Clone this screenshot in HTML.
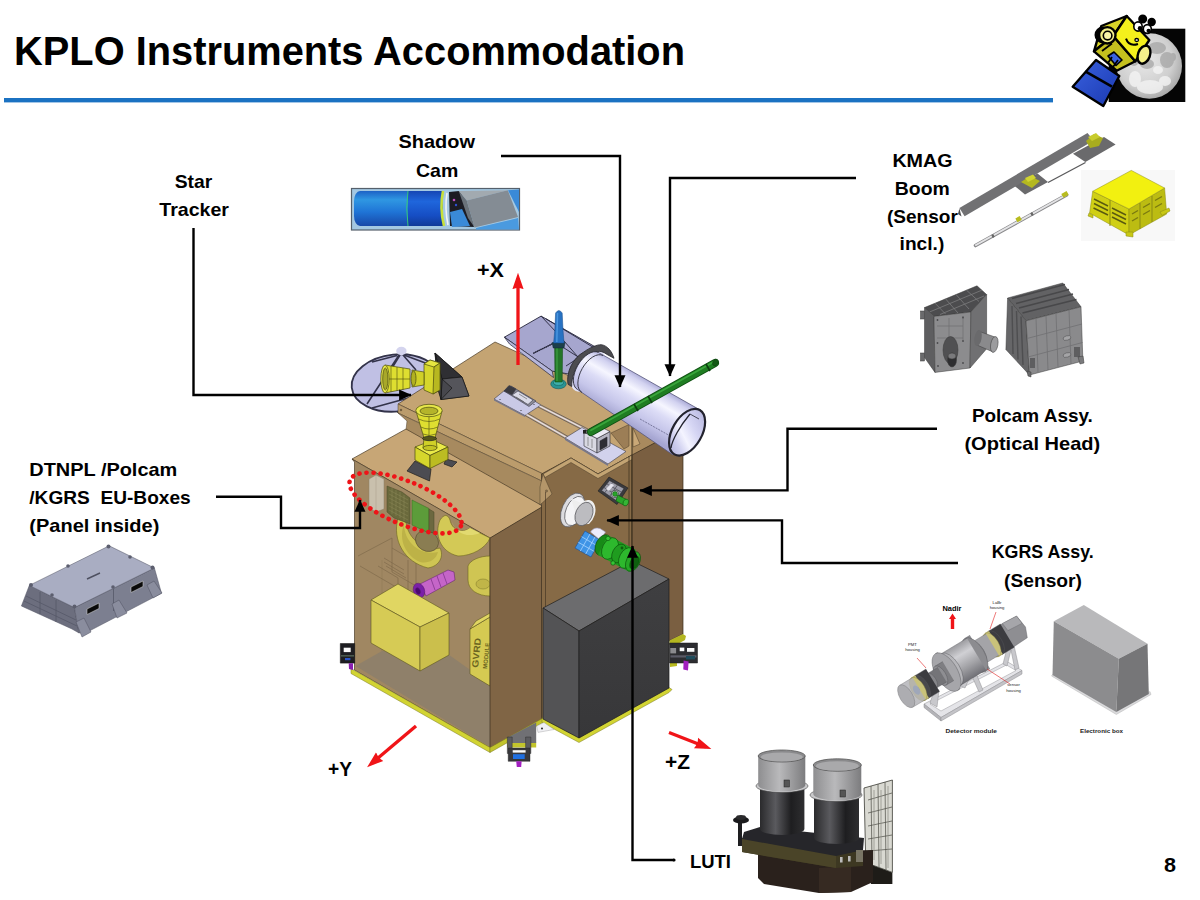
<!DOCTYPE html>
<html lang="en">
<head>
<meta charset="utf-8">
<title>KPLO Instruments Accommodation</title>
<style>
html,body{margin:0;padding:0;background:#fff;}
body{width:1200px;height:900px;overflow:hidden;position:relative;font-family:"Liberation Sans",sans-serif;}
svg{position:absolute;left:0;top:0;display:block;}
text{font-family:"Liberation Sans",sans-serif;font-weight:bold;fill:#000;}
.lbl{font-size:19px;}
.ax{font-size:21px;}
.c{fill:none;stroke:#000;stroke-width:2.4;stroke-linejoin:miter;}
.ol{stroke:#2a2a2a;stroke-width:0.7;stroke-linejoin:round;}
</style>
</head>
<body>
<svg width="1200" height="900" viewBox="0 0 1200 900">
<defs>
<marker id="ah" viewBox="0 0 10 10" refX="9.5" refY="5" markerWidth="5.2" markerHeight="5.2" orient="auto-start-reverse"><path d="M0,0.6 L10,5 L0,9.4 Z" fill="#000"/></marker>
<marker id="rh" viewBox="0 0 10 10" refX="6.5" refY="5" markerWidth="5" markerHeight="5" orient="auto-start-reverse"><path d="M0,1.6 L10,5 L0,8.4 Q1.4,5 0,1.6 Z" fill="#f01418"/></marker>
</defs>
<rect width="1200" height="900" fill="#fff"/>

<!-- ===== header ===== -->
<g id="header">
<text x="14" y="65" font-size="40" textLength="671" lengthAdjust="spacingAndGlyphs">KPLO Instruments Accommodation</text>
<rect x="4" y="98" width="1049" height="4.4" fill="#1b72c2"/>
</g>

<!-- ===== peripheral images ===== -->
<g id="periph">
<defs>
<linearGradient id="gsc" x1="0" y1="0" x2="0" y2="1"><stop offset="0" stop-color="#1d62c6"/><stop offset="0.25" stop-color="#2f97e2"/><stop offset="0.6" stop-color="#1f74d6"/><stop offset="1" stop-color="#1848a8"/></linearGradient>
<linearGradient id="gsc2" x1="0" y1="0" x2="0" y2="1"><stop offset="0" stop-color="#1546b4"/><stop offset="0.3" stop-color="#1f66dc"/><stop offset="0.7" stop-color="#164ec4"/><stop offset="1" stop-color="#103a98"/></linearGradient>
<radialGradient id="gmoon" cx="0.42" cy="0.4" r="0.62"><stop offset="0" stop-color="#e9e9e9"/><stop offset="0.7" stop-color="#cfcfcf"/><stop offset="1" stop-color="#a9a9a9"/></radialGradient>
<linearGradient id="gpanel" x1="0" y1="0" x2="1" y2="1"><stop offset="0" stop-color="#3a62e0"/><stop offset="1" stop-color="#1a38b0"/></linearGradient>
<linearGradient id="glutiL" x1="0" y1="0" x2="1" y2="0"><stop offset="0" stop-color="#8e8e90"/><stop offset="0.45" stop-color="#b9b9bb"/><stop offset="1" stop-color="#7c7c7e"/></linearGradient>
<linearGradient id="glutiD" x1="0" y1="0" x2="1" y2="0"><stop offset="0" stop-color="#2a2a2c"/><stop offset="0.35" stop-color="#5a5a5e"/><stop offset="0.7" stop-color="#1e1e20"/><stop offset="1" stop-color="#2e2e30"/></linearGradient>
<linearGradient id="gdrum" x1="0" y1="0" x2="0.5" y2="1"><stop offset="0" stop-color="#c4c4c8"/><stop offset="0.5" stop-color="#8e8e94"/><stop offset="1" stop-color="#6a6a70"/></linearGradient>
</defs>

<!-- ShadowCam picture -->
<g id="shadowcam">
<rect x="351.5" y="188.5" width="168" height="41.5" fill="#a4c8e2" stroke="#55606c" stroke-width="1.2"/>
<rect x="354" y="191" width="55" height="35" rx="6" ry="10" fill="url(#gsc)"/>
<rect x="390" y="191" width="19" height="35" fill="url(#gsc)"/>
<rect x="408" y="191" width="35" height="35" fill="url(#gsc2)"/>
<path d="M408,191 Q405.5,208 408,226" fill="none" stroke="#35c878" stroke-width="1"/>
<path d="M443,191 Q439.5,208 444,226" fill="none" stroke="#c8e03a" stroke-width="2.6"/>
<path d="M447,193 Q444.5,208 448,225" fill="none" stroke="#f4f4f4" stroke-width="1.6"/>
<polygon points="449,192 459,191 466,201 474,227 450,226" fill="#1c1c24"/>
<polygon points="450,212 462,209 470,226 452,227" fill="#3a8ad8"/>
<polygon points="458.7,191 507.8,190.3 466.7,200.6" fill="#a2aab0"/>
<polygon points="466.7,200.6 507.8,190.3 518,217 474.6,227.5" fill="#848c94"/>
<polygon points="458.7,191 466.7,200.6 474.6,227.5 468,218" fill="#6a727a"/>
<polygon points="508,190.3 519,189.5 519,212" fill="#3a8ad8"/>
<polygon points="476,228 518,218 519,229.5 476,229.5" fill="#4a9adf"/>
<circle cx="454" cy="200" r="1.3" fill="#c050c0"/><circle cx="456" cy="205" r="1.2" fill="#3050d0"/>
</g>

<!-- Logo -->
<g id="logo">
<rect x="1108.7" y="28.7" width="76.6" height="73.3" fill="#050505"/>
<circle cx="1149.3" cy="66" r="32.7" fill="url(#gmoon)"/>
<g fill="#a2a2a2" opacity="0.7">
<ellipse cx="1141" cy="50" rx="10" ry="7"/><ellipse cx="1157" cy="48" rx="9" ry="6"/><ellipse cx="1167" cy="60" rx="7" ry="8"/><ellipse cx="1147" cy="64" rx="7" ry="5"/><ellipse cx="1173" cy="57" rx="3" ry="4"/><ellipse cx="1134" cy="60" rx="5" ry="6"/>
</g>
<g fill="#f4f4f4" opacity="0.8"><ellipse cx="1150" cy="87" rx="13" ry="7"/><ellipse cx="1135" cy="79" rx="6" ry="8"/><ellipse cx="1165" cy="81" rx="6" ry="5"/><ellipse cx="1158" cy="70" rx="5" ry="4"/></g>
<g stroke="#000" stroke-width="2.4" stroke-linejoin="round">
<polygon points="1096,60 1119.3,76 1103.3,106 1072.7,86.7" fill="url(#gpanel)"/>
<path d="M1085.3,71.3 L1112,86.7" fill="none" stroke-width="2.6"/>
<polygon points="1126.7,16 1113.3,36 1094,51.3 1101.3,26" fill="#d8d428"/>
<polygon points="1113.3,36 1135.3,61.3 1116.7,70.7 1094,51.3" fill="#c4c01e"/>
<polygon points="1126.7,16 1149.3,40 1135.3,61.3 1113.3,36" fill="#f4f01c"/>
<polygon points="1108,56 1114,52 1122,60 1116,65.5" fill="#3a62e0" stroke-width="1.6"/>
<path d="M1102,51 L1112,43.5 M1108,63 L1112,57 M1113,67 L1118,60" fill="none" stroke-width="1.8"/>
<ellipse cx="1144" cy="54.7" rx="6" ry="9.3" transform="rotate(20 1144 54.7)" fill="#f4f08a"/>
<circle cx="1103" cy="35" r="8.5" fill="#000" stroke="none"/>
<circle cx="1107.3" cy="35.3" r="8.2" fill="#f4f08a"/>
<circle cx="1107.6" cy="35.6" r="4.3" fill="#f8f4a8" stroke-width="1.6"/>
<circle cx="1142.7" cy="19" r="3.3" fill="#000"/><circle cx="1151.7" cy="22" r="3" fill="#000"/>
<ellipse cx="1138" cy="26.5" rx="4.2" ry="4.6" fill="#fff" stroke-width="1.6"/>
<ellipse cx="1147.3" cy="29" rx="4" ry="4.4" fill="#fff" stroke-width="1.6"/>
<circle cx="1140" cy="28.3" r="2.2" fill="#000" stroke="none"/><circle cx="1148.6" cy="30.8" r="2.1" fill="#000" stroke="none"/>
<path d="M1126,38.7 Q1129,47 1138,44" fill="none" stroke-width="2"/>
<ellipse cx="1136.7" cy="40" rx="1.8" ry="1.5" fill="#fff" stroke-width="1.3"/>
</g>
</g>

<!-- KMAG boom picture -->
<g id="kmag">
<polygon points="1073,153.8 1104,137 1115.6,144.4 1085.4,162" fill="#6a6a6c"/>
<polygon points="1013.5,185 1037.5,173.5 1048,182 1025,194.4" fill="#6a6a6c"/>
<path d="M1048,182.5 L1085.5,162.5" stroke="#5a5a5c" stroke-width="1.4" fill="none"/>
<polygon points="959.4,208 1087.5,133 1093.7,140.5 964.6,216.3" fill="#717173"/><rect x="1081" y="170" width="94" height="71" fill="#f8f8f8"/>
<polygon points="959.4,208.5 961.5,216.5 958,214" fill="#4a4a4c"/>
<polygon points="1021,182 1030,176 1040,181 1032,188" fill="#b4b820"/>
<polygon points="1025,178 1033,174.5 1036,178 1028,182" fill="#d0d430"/>
<polygon points="1086,141 1094,134 1103,138 1099,146 1090,148" fill="#a8ac1e"/>
<polygon points="1088,137 1096,133 1100,137 1092,141" fill="#c8cc2c"/>
<path d="M975.5,245.5 L1066.5,195" stroke="#8a8a8c" stroke-width="3.6" stroke-linecap="round" fill="none"/>
<path d="M976,245 L1066,195" stroke="#e4e4e6" stroke-width="2" stroke-linecap="round" fill="none"/>
<path d="M992,236.5 L994,235.4 M1031,214.6 L1033,213.5" stroke="#666" stroke-width="3.2" fill="none"/>
<rect x="1016" y="217" width="5" height="4.4" transform="rotate(-29 1018.5 219)" fill="#b8bc20"/>
<rect x="1062" y="192.2" width="6" height="4.4" transform="rotate(-29 1065 194.4)" fill="#b8bc20"/>
</g>
<g id="ybox" stroke="#8a8a14" stroke-width="0.5">
<polygon points="1089.6,213 1092.7,191.3 1129,209 1129,235" fill="#d0cf14"/>
<polygon points="1129,209 1164.6,188 1166.7,214 1129,235" fill="#bcbc12"/>
<polygon points="1092.7,191.3 1131.3,170.4 1164.6,188 1129,209" fill="#f2f010"/>
<path d="M1094,199 L1108,206 M1094,203.5 L1108,210.5 M1093.5,208 L1108,215 M1112,208 L1126,215 M1112,212.5 L1126,219.5 M1112,217 L1126,224" stroke="#5a5a10" stroke-width="1.5" fill="none"/>
<path d="M1110,200 V226 M1140,203 V229 M1152,196 V222" stroke="#8a8a14" stroke-width="1" fill="none"/>
<path d="M1132,214 L1138,210.5 M1143,207.5 L1150,203.5 M1155,200.5 L1162,196.5 M1132,221 L1138,217.5 M1143,214.5 L1150,210.5 M1155,207.5 L1162,203.5" stroke="#7a7a10" stroke-width="1.4" fill="none"/>
<polygon points="1089,213 1093,215 1093,218 1088,216" fill="#c8c814"/><polygon points="1160,212 1169,208 1170,211 1162,215.5" fill="#c8c814"/><polygon points="1126,232 1133,232 1133,237 1126,236" fill="#c8c814"/>
</g>

<!-- Polcam units -->
<g id="polcam" stroke="#3a3a3a" stroke-width="0.5">
<polygon points="924.5,307.6 977,285.8 986.6,294.5 970.9,312 934,316.4" fill="#4c4c4e"/>
<path d="M935,303.2 L946,314.5 M945.5,298.8 L958,313 M956,294.5 L969,309 M966.5,290.2 L979,301.5 M929.5,312 L981.8,290.2 M940,314.5 L984,296" stroke="#7c7c7e" stroke-width="0.8" fill="none"/>
<polygon points="924.5,307.6 934,316.4 935,372.4 924.5,357.5" fill="#5e5e60"/>
<polygon points="934,316.4 970.9,312 970,368 935,372.4" fill="#8c8c8e"/>
<polygon points="970.9,312 986.6,294.5 986.6,348.8 970,368" fill="#707072"/>
<path d="M949,318 V338 M937,326 H963 M937,338 H963 M963,316 V340" stroke="#6e6e70" stroke-width="0.7" fill="none"/>
<rect x="920.5" y="311" width="4" height="8" fill="#6a6a6c"/><rect x="920.5" y="353" width="4" height="8" fill="#6a6a6c"/>
<polygon points="978,331 995,337 993,352 977,345" fill="#8a8a8c"/>
<ellipse cx="994.3" cy="344.5" rx="3.6" ry="8" transform="rotate(10 994.3 344.5)" fill="#9c9c9e"/>
<ellipse cx="978" cy="338" rx="3.6" ry="8" transform="rotate(10 978 338)" fill="#6a6a6c" stroke="none"/>
<ellipse cx="950.5" cy="350" rx="7.5" ry="13.5" fill="#505052"/>
<ellipse cx="952" cy="360" rx="4.5" ry="7" fill="#2e2e30"/>
<ellipse cx="952" cy="356" rx="4" ry="3" fill="#7a7a7c"/>
<g fill="#4a4a4c" stroke="none"><circle cx="937.5" cy="320" r="0.9"/><circle cx="963" cy="317.5" r="0.9"/><circle cx="937.5" cy="343" r="0.9"/><circle cx="963" cy="341" r="0.9"/><circle cx="938" cy="366" r="0.9"/><circle cx="963" cy="363" r="0.9"/></g>

<polygon points="1007.6,298 1062.8,283 1081,306.8 1026,320.8" fill="#626264"/>
<path d="M1012,298.5 L1065,284.5 M1016,303.5 L1069,289.5 M1019,308 L1073,294 M1022.5,313 L1076.5,299.5" stroke="#48484a" stroke-width="1.6" fill="none"/>
<polygon points="1007.6,298 1026,320.8 1029.5,375 1005.9,349.6" fill="#666668"/>
<path d="M1012,306 L1013,354 M1016.5,311 L1018,359.5 M1021,316.5 L1023,365" stroke="#4e4e50" stroke-width="1.4" fill="none"/>
<polygon points="1026,320.8 1081,306.8 1082.9,361 1029.5,375" fill="#8a8a8c"/>
<path d="M1027,338.5 L1082,324 M1028,357 L1082.5,342.5 M1036,318.5 L1038,372 M1046,316 L1048,370 M1056,313.5 L1058,367 M1069,310 L1071,364" stroke="#707072" stroke-width="0.8" fill="none"/>
<ellipse cx="1067" cy="338" rx="4" ry="2.2" transform="rotate(-15 1067 338)" fill="#a4a4a6" stroke="#4a4a4c"/>
<ellipse cx="1067" cy="355" rx="4" ry="2.2" transform="rotate(-15 1067 355)" fill="#a4a4a6" stroke="#4a4a4c"/>
<rect x="1030" y="358" width="5" height="10" fill="#5e5e60" stroke="none"/><rect x="1074" y="347" width="6" height="10" fill="#5e5e60" stroke="none"/>
<polygon points="1078,357 1083,356 1084,363 1080,364" fill="#7a7a7c"/><polygon points="1027,371 1031,372 1031,377 1028,376" fill="#6a6a6c"/>
</g>
<!-- KGRS detector module -->
<g id="kgrs">
<g stroke="#8e8e92" stroke-width="0.5" fill="#d4d4d8"><polygon points="924,704 1007,661.5 1022,670.5 941,717.5" fill="#e4e4e8"/><polygon points="930,704 1006.5,665 1016,670.5 941,711" fill="#ffffff" stroke="#9a9a9e"/><polygon points="924,704 941,717.5 941,721 924,707.5" fill="#b4b4b8"/><polygon points="941,717.5 1022,670.5 1022,674 941,721" fill="#c4c4c8"/><polygon points="1003,664 1009,640 1013,641 1019,668 1015,670 1011,650 1007,666" fill="#c8c8cc"/><polygon points="961,686 969,664 973,666 983,690 979,692 971,674 965,688" fill="#c8c8cc"/><polygon points="930,703 935,688 939,690 937,707" fill="#c8c8cc"/></g>
<defs><linearGradient id="gdr2" gradientUnits="userSpaceOnUse" x1="954.8" y1="645.0" x2="974.3" y2="677.6"><stop offset="0" stop-color="#9a9a9e"/><stop offset="0.3" stop-color="#d0d0d4"/><stop offset="0.65" stop-color="#a2a2a6"/><stop offset="1" stop-color="#6e6e74"/></linearGradient></defs>
<polygon points="999.0,625.5 1016.6,616.1 1025.5,627.0 1027.3,637.7 1012.3,647.8" fill="#8e8e92" stroke="#55555a" stroke-width="0.4"/>
<polygon points="1002.4,623.4 1016.6,616.1 1022.1,623.3 1007.9,630.6" fill="#a6a6aa" stroke="#55555a" stroke-width="0.3"/>
<polygon points="988.4,631.2 1000.4,624.0 1014.3,647.2 1002.3,654.4" fill="#3c3c40" stroke="none"/><path d="M988.4,631.2 L1000.4,624.0 M1002.3,654.4 L1014.3,647.2" stroke="#55555a" stroke-width="0.4" fill="none"/><ellipse cx="995.4" cy="642.8" rx="6.8" ry="13.5" transform="rotate(-31.0 995.4 642.8)" fill="#3c3c40" stroke="#55555a" stroke-width="0.4"/>
<polygon points="985.0,633.3 988.9,631.0 1002.7,654.1 998.9,656.4" fill="#c9c27a" stroke="none"/><path d="M985.0,633.3 L988.9,631.0 M998.9,656.4 L1002.7,654.1" stroke="#8a8440" stroke-width="0.4" fill="none"/><ellipse cx="992.0" cy="644.9" rx="6.8" ry="13.5" transform="rotate(-31.0 992.0 644.9)" fill="#c9c27a" stroke="#8a8440" stroke-width="0.4"/>
<polygon points="971.8,642.4 986.0,633.9 998.8,655.3 984.7,663.8" fill="#a4a4a8" stroke="none"/><path d="M971.8,642.4 L986.0,633.9 M984.7,663.8 L998.8,655.3" stroke="#55555a" stroke-width="0.4" fill="none"/><ellipse cx="978.2" cy="653.1" rx="6.2" ry="12.5" transform="rotate(-31.0 978.2 653.1)" fill="#a4a4a8" stroke="#55555a" stroke-width="0.4"/>
<polygon points="964.8,638.4 969.9,635.3 990.0,668.8 984.8,671.8" fill="#8c8c90" stroke="none"/><path d="M964.8,638.4 L969.9,635.3 M984.8,671.8 L990.0,668.8" stroke="#55555a" stroke-width="0.4" fill="none"/><ellipse cx="974.8" cy="655.1" rx="9.8" ry="19.5" transform="rotate(-31.0 974.8 655.1)" fill="#8c8c90" stroke="#55555a" stroke-width="0.4"/>
<polygon points="941.3,653.7 967.0,638.2 986.0,670.0 960.3,685.4" fill="url(#gdr2)" stroke="none"/><path d="M941.3,653.7 L967.0,638.2 M960.3,685.4 L986.0,670.0" stroke="#55555a" stroke-width="0.4" fill="none"/><ellipse cx="950.8" cy="669.5" rx="9.2" ry="18.5" transform="rotate(-31.0 950.8 669.5)" fill="#b6b6ba" stroke="#55555a" stroke-width="0.4"/>
<polygon points="935.5,653.7 937.6,652.4 959.7,689.2 957.6,690.5" fill="#8a8a8e" stroke="none"/><path d="M935.5,653.7 L937.6,652.4 M957.6,690.5 L959.7,689.2" stroke="#55555a" stroke-width="0.4" fill="none"/><ellipse cx="946.5" cy="672.1" rx="10.8" ry="21.5" transform="rotate(-31.0 946.5 672.1)" fill="#a6a6aa" stroke="#55555a" stroke-width="0.4"/>
<polygon points="934.9,666.3 942.6,661.6 953.9,680.5 946.2,685.1" fill="#7e7e82" stroke="none"/><path d="M934.9,666.3 L942.6,661.6 M946.2,685.1 L953.9,680.5" stroke="#55555a" stroke-width="0.4" fill="none"/><ellipse cx="940.5" cy="675.7" rx="5.5" ry="11.0" transform="rotate(-31.0 940.5 675.7)" fill="#8e8e92" stroke="#55555a" stroke-width="0.4"/>
<polygon points="927.6,673.5 937.9,667.4 946.6,681.9 936.3,688.1" fill="#747478" stroke="none"/><path d="M927.6,673.5 L937.9,667.4 M936.3,688.1 L946.6,681.9" stroke="#55555a" stroke-width="0.4" fill="none"/><ellipse cx="932.0" cy="680.8" rx="4.2" ry="8.5" transform="rotate(-31.0 932.0 680.8)" fill="#86868a" stroke="#55555a" stroke-width="0.4"/>
<polygon points="914.9,675.7 926.0,669.0 939.6,691.6 928.5,698.3" fill="#3c3c40" stroke="none"/><path d="M914.9,675.7 L926.0,669.0 M928.5,698.3 L939.6,691.6" stroke="#55555a" stroke-width="0.4" fill="none"/><ellipse cx="921.7" cy="687.0" rx="6.6" ry="13.2" transform="rotate(-31.0 921.7 687.0)" fill="#48484c" stroke="#55555a" stroke-width="0.4"/>
<polygon points="911.5,677.7 915.3,675.4 928.9,698.1 925.0,700.4" fill="#c9c27a" stroke="none"/><path d="M911.5,677.7 L915.3,675.4 M925.0,700.4 L928.9,698.1" stroke="#8a8440" stroke-width="0.4" fill="none"/><ellipse cx="918.2" cy="689.1" rx="6.6" ry="13.2" transform="rotate(-31.0 918.2 689.1)" fill="#c9c27a" stroke="#8a8440" stroke-width="0.4"/>
<ellipse cx="916.5" cy="690.1" rx="3" ry="5" transform="rotate(-31.0 916.5 690.1)" fill="#4a78c8"/>
<g opacity="0.82"><polygon points="899.7,685.3 912.5,677.6 925.7,699.5 912.8,707.2" fill="#b2b2b6" stroke="none"/><path d="M899.7,685.3 L912.5,677.6 M912.8,707.2 L925.7,699.5" stroke="#55555a" stroke-width="0.4" fill="none"/><ellipse cx="906.2" cy="696.2" rx="6.4" ry="12.8" transform="rotate(-31.0 906.2 696.2)" fill="#9c9ca0" stroke="#55555a" stroke-width="0.4"/></g>
<polygon points="949,619 952.5,613.5 956,619 954.2,619 954.2,629 950.8,629 950.8,619" fill="#f01418"/>
<path d="M996,612 L990,629 M917,658 L926,668 M1010,684 L987,669" stroke="#e02020" stroke-width="0.6" fill="none"/>
<text x="942.5" y="610.5" font-size="6.4" textLength="19" lengthAdjust="spacingAndGlyphs">Nadir</text>
<g style="font-weight:normal">
<text x="997" y="604" font-size="4.2" text-anchor="middle" style="font-weight:normal;fill:#222">LaBr</text>
<text x="997" y="609" font-size="4.2" text-anchor="middle" style="font-weight:normal;fill:#222">housing</text>
<text x="912.5" y="645.5" font-size="4.2" text-anchor="middle" style="font-weight:normal;fill:#222">PMT</text>
<text x="912.5" y="650.5" font-size="4.2" text-anchor="middle" style="font-weight:normal;fill:#222">housing</text>
<text x="1013.5" y="686" font-size="4.2" text-anchor="middle" style="font-weight:normal;fill:#222">sensor</text>
<text x="1013.5" y="691.5" font-size="4.2" text-anchor="middle" style="font-weight:normal;fill:#222">housing</text>
</g>
<text x="945.5" y="733" font-size="6.2" textLength="51.5" lengthAdjust="spacingAndGlyphs" style="fill:#222">Detector module</text>
<text x="1080" y="733" font-size="6.2" textLength="43" lengthAdjust="spacingAndGlyphs" style="fill:#222">Electronic box</text>
</g>
<!-- Electronic box -->
<g id="ebox">
<polygon points="1051.5,676 1054,673 1116.5,710 1150,691.5 1151,694.5 1116.3,714.5" fill="#dadadc" stroke="#aaa" stroke-width="0.4"/>
<polygon points="1053.8,621.3 1083.8,605 1147.5,643.8 1118.8,658.8" fill="#b9b9bb"/>
<polygon points="1053.8,621.3 1118.8,658.8 1116.3,712 1052.5,675" fill="#8c8c8e"/>
<polygon points="1118.8,658.8 1147.5,643.8 1148.8,694 1116.3,712" fill="#767678"/>
</g>

<!-- LUTI picture -->
<g id="luti">
<!-- radiator panel -->
<polygon points="866,862 892.4,872.4 892.4,884 871,884" fill="#1e1c18"/>
<polygon points="864,788 892.4,780 892.4,872.4 865.8,862.7" fill="#d9d9d2" stroke="#3a3a34" stroke-width="0.8"/>
<path d="M868,800 L892,793 M868,813 L892,807 M868,826 L892,821 M868,839 L892,835 M868,851 L892,849 M871,786 L872,865 M878,784 L879,867 M885,782 L886,870" stroke="#4a4a44" stroke-width="0.7" fill="none"/>
<path d="M874,790 V860 M881,790 V864 M888,786 V868" stroke="#8a8a84" stroke-width="1.2" fill="none" opacity="0.6"/>
<!-- lower block -->
<polygon points="758,853 758,878 764,884 819,893 851,892 873,882 873,850" fill="#2a211c"/>
<polygon points="819,868 851,866 851,892 819,893" fill="#362a22"/>
<!-- base band -->
<polygon points="742,838 836,855 863,850 863,866 836,868 742,852" fill="#3d3822"/>
<polygon points="742,838 836,855 836,868 742,852" fill="#4a4428"/>
<polygon points="744,832 760,827 864,838 863,850 836,856 742,839" fill="#26262a"/>
<rect x="840" y="857" width="2.6" height="5.5" fill="#bbb"/><rect x="848" y="856" width="2.6" height="5.5" fill="#bbb"/>
<rect x="856" y="850" width="7" height="12" fill="#7a7666"/>
<!-- knob -->
<rect x="738" y="822" width="4" height="24" fill="#1e1e20"/>
<ellipse cx="741" cy="820" rx="8" ry="3.6" fill="#1a1a1c"/><ellipse cx="741" cy="817.5" rx="5" ry="2.4" fill="#2a2a2c"/>
<!-- right cylinder -->
<path d="M814,796 V838 A22.5,6 0 0 0 859,838 V796 Z" fill="url(#glutiD)"/>
<ellipse cx="836" cy="795" rx="26" ry="6.5" fill="#c9c9cb" stroke="#444" stroke-width="0.6"/>
<path d="M813.3,765 V794 A24,6.4 0 0 0 861.3,794 V765 Z" fill="url(#glutiL)"/>
<ellipse cx="837.3" cy="765" rx="24" ry="6.2" fill="#8a8a8c" stroke="#555" stroke-width="0.8"/>
<ellipse cx="837.3" cy="766" rx="21.5" ry="4.8" fill="#a9a9ab"/>
<rect x="840" y="790" width="5.5" height="7" fill="#555" stroke="#222" stroke-width="0.5"/>
<!-- left cylinder -->
<path d="M760,787 V829 A22,6 0 0 0 804.4,829 V787 Z" fill="url(#glutiD)"/>
<ellipse cx="782" cy="786" rx="26" ry="6.5" fill="#c9c9cb" stroke="#444" stroke-width="0.6"/>
<path d="M758.2,756 V785 A23.5,6.4 0 0 0 805.3,785 V756 Z" fill="url(#glutiL)"/>
<ellipse cx="781.7" cy="756" rx="23.5" ry="6" fill="#8a8a8c" stroke="#555" stroke-width="0.8"/>
<ellipse cx="781.7" cy="757" rx="21" ry="4.6" fill="#a9a9ab"/>
<rect x="784" y="780" width="5.5" height="7" fill="#555" stroke="#222" stroke-width="0.5"/>
</g>

<!-- EU box picture -->
<g id="eubox" stroke="#4e5060" stroke-width="0.5">
<polygon points="21.4,606 29.3,585.4 74.4,607.6 79,633 72,629" fill="#6c6e7e"/>
<polygon points="74.4,607.6 154.4,568 161.5,593.3 88.7,631.3 79,633" fill="#7c7f90"/>
<polygon points="29.3,585.4 109.2,545.8 154.4,568 74.4,607.6" fill="#a9adc2"/>
<path d="M26,596 L76,620 M24,601 L77,626" stroke="#565868" stroke-width="0.8" fill="none"/>
<path d="M113.5,589 V611 M40,592 V614 M56,600 V622" stroke="#565868" stroke-width="0.8" fill="none"/>
<polygon points="87,609 99,603 99,608.5 87,614.5" fill="#0a0a0a" stroke="#ddd"/>
<polygon points="131,587 143,581 143,586.5 131,592.5" fill="#0a0a0a" stroke="#ddd"/>
<polygon points="76,622 84,618 91,632 82,637" fill="#8a8d9e"/>
<polygon points="112,604 119,600 127,613 117,618" fill="#8a8d9e"/>
<polygon points="147,585 154,581 162,593 153,598" fill="#8a8d9e"/>
<g fill="#5c5e6e" stroke="none"><circle cx="31" cy="585" r="2"/><circle cx="68" cy="566" r="1.8"/><circle cx="108.5" cy="546.5" r="2"/><circle cx="130" cy="557" r="1.8"/><circle cx="152.5" cy="567.5" r="2"/><circle cx="113" cy="587" r="1.8"/><circle cx="74.5" cy="606.5" r="2"/><circle cx="52" cy="595" r="1.8"/></g>
<path d="M87,579 L100,573" stroke="#4e5060" stroke-width="1.4" fill="none"/>
</g>

</g>


<!-- ===== spacecraft ===== -->
<g id="craft" class="ol">
<defs>
<linearGradient id="gcyl" gradientUnits="userSpaceOnUse" x1="649" y1="381" x2="625" y2="422">
<stop offset="0" stop-color="#b0b0da"/><stop offset="0.1" stop-color="#d2d2f0"/><stop offset="0.3" stop-color="#f6f6ff"/><stop offset="0.48" stop-color="#dcdcf6"/><stop offset="0.75" stop-color="#c6c6ea"/><stop offset="1" stop-color="#a6a6d2"/>
</linearGradient>
<linearGradient id="gcylin" gradientUnits="userSpaceOnUse" x1="700" y1="412" x2="674" y2="452">
<stop offset="0" stop-color="#b8b8e0"/><stop offset="0.35" stop-color="#d6d6f4"/><stop offset="0.6" stop-color="#f4f4ff"/><stop offset="0.8" stop-color="#d0d0f0"/><stop offset="1" stop-color="#b8b8e0"/>
</linearGradient>
<linearGradient id="ggbR" x1="0" y1="0" x2="0" y2="1"><stop offset="0" stop-color="#3f3f41"/><stop offset="1" stop-color="#373739"/></linearGradient>
</defs>

<!-- dish behind deck -->
<g id="dish">
<ellipse cx="396" cy="383" rx="44.5" ry="28.5" transform="rotate(-6 396 383)" fill="#c0c0e4" stroke="#33334a" stroke-width="1.8"/>
<ellipse cx="401.4" cy="351" rx="5.2" ry="4.2" fill="#d4d4ee" stroke="none"/>
<path d="M399,355 L367,404 M400,355 L392,368 M403,355 L416,370 M397,355.5 L372,362 M404,355 L428,364 M372,408 L412,397" fill="none" stroke="#33334a" stroke-width="1.6"/>
</g>

<!-- top deck -->
<polygon points="495,342 398,404 543,474 571,458 598,474 632,455 683,428" fill="#c4a473" stroke="#4a3c28"/>
<!-- tray behind cylinder -->
<polygon points="504.4,337.2 541.1,316.1 599,349 580,376 552.2,371.1" fill="#a6a6ce" stroke="#26263a" stroke-width="0.9"/>
<polygon points="504.4,337.2 552.2,371.1 553.5,377.5 509.5,344" fill="#b6b6da" stroke="#26263a" stroke-width="0.7"/>
<path d="M541.1,316.1 L557,333 L578,357 M533.3,353.3 L553,343.5 M557,343.5 L579,357.5 L566,366 M546,318.8 L596,349" fill="none" stroke="#26263a" stroke-width="0.9"/>
<path d="M533.3,353.3 L553,343.5" fill="none" stroke="#26263a" stroke-width="1.4" stroke-dasharray="1.2 0.8"/>
<!-- step region under cylinder -->
<polygon points="632,425 660,440 632,456" fill="#a98a5e" stroke="#4a3c28" stroke-width="0.5"/>
<!-- band + chamfer -->
<polygon points="398,404 543,474 546,483 398,413" fill="#bb9c6c" stroke="#4a3c28" stroke-width="0.5"/>
<polygon points="398,413 546,483 552,494 540,505 406,430 407,421 397,412" fill="#a78a5f" stroke="#4a3c28" stroke-width="0.5"/>
<circle cx="546.5" cy="491" r="1.1" fill="#7a6444" stroke="#4a3c28" stroke-width="0.4"/>
<circle cx="401" cy="410" r="0.9" fill="#7a6444" stroke="#4a3c28" stroke-width="0.4"/>

<!-- lower deck -->
<polygon points="352,459 406,429 543.5,506.5 490,538.5" fill="#c7a676" stroke="#4a3c28"/>

<!-- +Y transparent face -->
<polygon points="352,459 490,538 490,748 354.5,670 354.5,462" fill="#a08762" stroke="#4a3c28"/>
<g id="inside" stroke-width="0.5">
<!-- floor -->
<polygon points="355.5,666 382,651 445,652 490,684 490,747" fill="#8f806a" stroke="none"/>
<path d="M382,651 V560" stroke="#7d6a4c" stroke-width="0.5" fill="none" opacity="0.5"/>
<!-- ghost structure -->
<g fill="none" stroke="#6f5c40" stroke-width="0.6" opacity="0.75">
<path d="M358,556 L392,538 L392,572 L416,586 L416,562 L392,548"/>
<path d="M384,558 L404,570 M384,562 L404,574 M386,566 L406,578 M378,566 L398,578 L398,584"/>
<path d="M360,566 L408,594 M408,594 L408,560"/>
</g>
<!-- yellow tanks -->
<g stroke="#6b6420" stroke-width="0.6">
<path d="M398,518 C392,540 404,562 428,568 C440,566 444,556 440,548 C426,552 408,540 406,522 Z" fill="#cfc553"/>
<path d="M404,524 C404,542 420,556 438,552 C436,560 428,564 420,562 C406,556 398,540 404,524 Z" fill="#bdb247" stroke="none"/>
<ellipse cx="427" cy="541" rx="12" ry="10" transform="rotate(30 427 541)" fill="#8a7d52" stroke="#5a5030"/>
<path d="M440,520 C434,534 440,552 458,556 C472,556 486,548 490,538 L490,538 L470,528 C462,534 452,530 450,520 C448,514 444,514 440,520 Z" fill="#d3c956"/>
<path d="M452,522 C456,534 468,538 480,533 L470,528 C462,534 454,530 452,522 Z" fill="#e2da70" stroke="none"/>
<path d="M468,566 C470,560 480,556 490,556 L490,596 C478,596 468,590 468,580 Z" fill="#cfc553"/>
<ellipse cx="483" cy="584" rx="7" ry="5" fill="#c0b548" stroke="#6b6420" stroke-width="0.4"/>
</g>
<!-- EU boxes panel -->
<polygon points="369,479 376,475 384,479 384,509 376,512 369,508" fill="#c9c0ad" stroke="#8a8068"/>
<path d="M376,475 V512" stroke="#a89f8a" stroke-width="0.5"/>
<polygon points="387,486 402,492 410,498 410,524 394,518 387,512" fill="#6a693c" stroke="#4a4a28"/>
<path d="M389,490 L408,500 M389,494 L408,504 M389,498 L408,508 M389,502 L408,512 M389,506 L408,516 M389,510 L408,520 M392,488 V514 M396,490 V516 M400,492 V518 M404,495 V521" stroke="#8c8a58" stroke-width="0.5" fill="none"/>
<polygon points="412,500 429,508.5 429,533 412,525" fill="#5c9c3a" stroke="#3a6a20"/>
<polygon points="429,509 434,512 434,533 429,532" fill="#6c6840" stroke="#4a4a28"/>
<!-- purple part -->
<g stroke="#5a1a6a" stroke-width="0.5">
<polygon points="420,584 448,570 454,572 455,580 426,596" fill="#c565c8"/>
<path d="M431,579 L435,590 M437,576 L441,587 M443,573 L447,584" fill="none"/>
<ellipse cx="419" cy="590.5" rx="5.5" ry="7.5" transform="rotate(-20 419 590.5)" fill="#7a1fa8"/>
<ellipse cx="418" cy="591" rx="2.2" ry="3.4" transform="rotate(-20 418 591)" fill="#4a0a70"/>
</g>
<!-- yellow box -->
<g stroke="#5a5420" stroke-width="0.6">
<polygon points="371,600 398,584 449,613 420,627" fill="#e0d662"/>
<polygon points="371,600 420,627 420,671 371,643" fill="#d6cb55"/>
<polygon points="420,627 449,613 449,655 420,671" fill="#cbbf4c"/>
</g>
<!-- yellow module with text -->
<g stroke="#5a5420" stroke-width="0.6">
<polygon points="470,629 490,617 490,686 470,674" fill="#d5ca52"/>
<polygon points="470,629 476,621 490,613 490,617" fill="#e0d662"/>
</g>
<g transform="translate(478,668) rotate(-84)" stroke="none">
<text x="0" y="0" font-size="9" style="font-weight:bold;fill:#6b6420" textLength="30" lengthAdjust="spacingAndGlyphs">GVRD</text>
<text x="0" y="9" font-size="6" style="font-weight:bold;fill:#6b6420" textLength="26" lengthAdjust="spacingAndGlyphs">MODULE</text>
</g>
</g>


<!-- +Z face of left box -->
<polygon points="490,538 543.5,506 543.5,719 490,748" fill="#806545" stroke="#3a2e1e"/>

<!-- +Y wall -->
<polygon points="541.5,474 571,458 598,474 632,455 632,700 541.5,722" fill="#866a46" stroke="#3a2e1e"/>
<polygon points="543,474 571,458 598,474 632,455 632,459.5 598,478.5 571,462.5 545,477.5" fill="#c3a473" stroke="#4a3c28" stroke-width="0.5"/>
<polygon points="543,474 552,494 540,505 540,487" fill="#b4966a" stroke="#4a3c28" stroke-width="0.5"/>
<circle cx="546.5" cy="491" r="1.1" fill="#8a7250" stroke="#4a3c28" stroke-width="0.4"/>
<polygon points="611,433 629,424.5 629,446 624,449" fill="#9c7e56" stroke="#4a3c28" stroke-width="0.5"/>
<path d="M545.5,492 V610" stroke="#3a2e1e" stroke-width="0.6" fill="none"/>
<!-- +Z face right -->
<polygon points="632,455 683,428 683,634 669,641 632,668" fill="#7a5f41" stroke="#3a2e1e"/>
<path d="M632,425 V600 M629,456 V600" stroke="#3a2e1e" stroke-width="0.7" fill="none"/>

<g id="base">
<!-- yellow base plate strips -->
<polygon points="351,668.5 490,747.5 490,752.5 351,673.5" fill="#d2d432" stroke="#7a7820" stroke-width="0.5"/>
<polygon points="490,747.5 543,718 543,722.5 490,752.5" fill="#c2c42c" stroke="#7a7820" stroke-width="0.5"/>
<polygon points="542,717.5 579,737.5 669,687.5 672,689.5 669,692.5 579,742.5 542,722.5" fill="#d2d432" stroke="#7a7820" stroke-width="0.5"/><polygon points="669.5,640.5 683,634 686,636 685,640 676,645 669.5,645" fill="#b4b620" stroke="none"/>
<!-- left foot -->
<g stroke="#111" stroke-width="0.5">
<rect x="340.3" y="643.5" width="14.4" height="19.6" fill="#1e1e22"/>
<rect x="343.7" y="647.7" width="7" height="4.4" fill="#fafafa" stroke="none"/>
<rect x="341" y="655" width="13" height="1.6" fill="#4a5a4e" stroke="none"/>
<rect x="345" y="658" width="5.4" height="2.2" fill="#2b55c8" stroke="none"/>
<polygon points="348.7,663.3 353,663.3 353,670 349,669" fill="#8a1fb0" stroke="none"/>
</g>
<!-- right foot -->
<polygon points="670,659 677,659 677,666 670,667" fill="#b8ba20" stroke="none"/>
<g stroke="#1a1a1a" stroke-width="0.5">
<rect x="669.5" y="643" width="28" height="20" fill="#2c2c30"/>
<rect x="670.3" y="648" width="5.8" height="5.4" fill="#8a8a8e" stroke="none"/>
<rect x="679.7" y="647.6" width="4.6" height="3.6" fill="#fafafa" stroke="none"/>
<rect x="687" y="648" width="7.4" height="3.8" fill="#fafafa" stroke="none"/>
<rect x="670.5" y="655.3" width="26" height="2.2" fill="#5a5a66" stroke="none"/>
<rect x="686" y="656" width="9" height="3.4" fill="#1e4a5a" stroke="none"/>
<polygon points="683.6,660.5 688.6,661.5 688,670.5 683.3,669.5" fill="#a21fc0" stroke="none"/>
</g>
<!-- bottom foot -->
<polygon points="507,742.7 536.2,742.7 536.2,747.5 507,747.5" fill="#c2c42c" stroke="none"/>
<g stroke="#222" stroke-width="0.4">
<polygon points="507.8,737.3 536.2,722.5 536.2,743 507.8,743" fill="#707074" stroke="none"/>
<polygon points="536.7,726 544,722.5 554,729.5 538,732.4" fill="#f0f0f4" stroke="#999"/>
<circle cx="542" cy="728.5" r="0.9" fill="#111" stroke="none"/>
<rect x="507.3" y="737" width="4.9" height="16.5" fill="#5c5c60"/>
<rect x="525.6" y="737" width="5.3" height="16.5" fill="#5c5c60"/>
<rect x="508.2" y="748" width="21.8" height="13.3" fill="#38383c"/>
<rect x="512.7" y="750.2" width="12.9" height="2.4" fill="#fafafa" stroke="none"/>
<rect x="513" y="754.2" width="11.7" height="4.8" fill="#1f6fe0" stroke="none"/>
<polygon points="516.2,761.3 521.6,761.3 521.2,767 516.8,767" fill="#a21fc0" stroke="none"/>
</g>
</g>

<g id="greybox" stroke="#1e1e1e" stroke-width="0.7">
<polygon points="543,608 632,561 669,579 579,631" fill="#6c6c6e"/>
<polygon points="543,608 579,631 579,738 543,719" fill="#535355"/>
<polygon points="579,631 669,579 669,688 579,738" fill="url(#ggbR)"/>
</g>

<g id="wallitems">
<!-- white drum (KGRS) -->
<g stroke="#55555a" stroke-width="0.7">
<ellipse cx="572.5" cy="510" rx="10.5" ry="18" transform="rotate(24 572.5 510)" fill="#dcdce0"/>
<ellipse cx="575" cy="511" rx="9" ry="15.5" transform="rotate(24 575 511)" fill="#f4f4f6"/>
<path d="M571,498.5 L581,503 A8.5,12.5 24 0 1 589,524 L579,524.5 Z" fill="#eeeeee" stroke="none"/>
<ellipse cx="584" cy="514" rx="8.3" ry="12.3" transform="rotate(24 584 514)" fill="#bcbcc0"/>
</g>
<!-- polcam on wall -->
<g stroke="#1e1e1e" stroke-width="0.6">
<polygon points="598,491 609,477 628,488 617,504.5" fill="#3a3a3e"/>
<polygon points="601.5,490.5 609.5,480.5 624,488.5 616,500.5" fill="#9c9ca8" stroke="#2a2a2e"/>
<path d="M604,487.5 L619,496.5 M607,484 L622,492.5 M612.5,482.5 L604.5,493 M617.5,485 L609.5,496.5" stroke="#44444e" stroke-width="0.7" fill="none"/>
<polygon points="606,489 611,483.5 614,485 609,491" fill="#e4e4ee" stroke="none"/>
<circle cx="615" cy="494" r="3.6" fill="#d8d8e0" stroke="#2a2a2e"/>
<circle cx="615" cy="494" r="2.4" fill="#2aa52a" stroke="#0d5a0d"/>
<polygon points="617.5,495 626.5,499.5 624.5,505.5 616,501" fill="#2aa52a" stroke="#0d5a0d"/>
<ellipse cx="625.8" cy="502.5" rx="2.6" ry="3.5" transform="rotate(25 625.8 502.5)" fill="#35b535" stroke="#0d5a0d"/>
</g>
<!-- LUTI on wall -->
<g stroke-width="0.6">
<polygon points="575,548 585,531 600,540 591,557" fill="#3f94e6" stroke="#1a4f9a"/>
<path d="M578.3,542.3 L594,551.3 M581.6,536.7 L597,545.7 M580.3,551 L590,534 M585.7,554 L595,537" stroke="#a8d4ff" stroke-width="0.8" fill="none"/>
<path d="M590.5,532 Q594,526.5 600,528.5 L605.5,532 L600,540 Z" fill="#ececfc" stroke="#9a9ab8"/>
<g stroke="#0b4d0b">
<ellipse cx="603" cy="545" rx="7" ry="11" transform="rotate(27 603 545)" fill="#178a17"/>
<polygon points="607.5,535 636,550 629.5,572 598,555" fill="#1f9c1f" stroke="none"/>
<ellipse cx="610" cy="548.5" rx="7.5" ry="11.5" transform="rotate(27 610 548.5)" fill="#2db82d"/>
<ellipse cx="619" cy="553.5" rx="6.5" ry="10" transform="rotate(27 619 553.5)" fill="#1f9c1f"/>
<ellipse cx="626.5" cy="558" rx="7" ry="11" transform="rotate(27 626.5 558)" fill="#2db82d"/>
<ellipse cx="633" cy="561.5" rx="6.6" ry="10.5" transform="rotate(27 633 561.5)" fill="#25a825"/>
<ellipse cx="634.5" cy="562.5" rx="4" ry="7" transform="rotate(27 634.5 562.5)" fill="#0f5f0f"/>
<circle cx="608" cy="538.5" r="2.2" fill="#35c535"/>
<circle cx="613" cy="563" r="2.2" fill="#35c535"/>
<circle cx="622" cy="548" r="1.4" fill="#0f5f0f" stroke="none"/>
</g>
</g>
</g>
</g>

<g id="deckitems">
<!-- plates and rails -->
<g stroke="#3c3c4a" stroke-width="0.6">
<polygon points="494,399 510,386 541,405 525,415.5" fill="#c9c9e6"/>
<polygon points="494,399 525,415.5 525,417 494,400.5" fill="#77778a" stroke="none"/>
<path d="M541,405 L588,429 M538,407 L585,431 M525,415.5 L566,439 M528,413.5 L569,437" fill="none" stroke="#4a4a5a" stroke-width="0.7"/>
<path d="M539.5,406 L586.5,430 M526.5,414.5 L567.5,438" fill="none" stroke="#e0e0f4" stroke-width="1.3"/>
<polygon points="565,438 582,427.5 626,451.5 608,464" fill="#d2d2ec"/>
<polygon points="565,438 608,464 608,466 565,440" fill="#77778a" stroke="none"/>
<!-- device on plate 1 -->
<polygon points="504,391 511,386 536,401 529,406.5" fill="#8a8a96"/>
<polygon points="504,391 509,385.5 516,389 512,395" fill="#3a3a40"/>
<polygon points="512,395 518,391 533,400 528,404.5" fill="#dadae6"/>
<path d="M516,397 L524,402 M519,394 L527,399" stroke="#555" stroke-width="0.6" fill="none"/>
<circle cx="500" cy="399.5" r="0.6" fill="#333" stroke="none"/><circle cx="521" cy="410.5" r="0.6" fill="#333" stroke="none"/><circle cx="534" cy="404.5" r="0.6" fill="#333" stroke="none"/>
</g>

<!-- antenna blue/green -->
<g stroke-width="0.5">
<ellipse cx="558.5" cy="384" rx="7.8" ry="4.8" fill="#2a9494" stroke="#0d4f4f"/>
<ellipse cx="558.5" cy="382.6" rx="5" ry="2.8" fill="#3fb0aa" stroke="#0d4f4f"/>
<polygon points="554.6,347 562.6,347 562.2,382 555,382" fill="#237528" stroke="#0f4a12"/>
<path d="M557,348 V381" stroke="#3a9a3e" stroke-width="1.4" fill="none"/>
<polygon points="552.2,342.5 565,342.5 564,348 553.2,348" fill="#1c3f4a" stroke="#0f2a32"/>
<path d="M555.6,313 Q558.9,308 562.2,313 L563,330 L564,343 L553.6,343 L554.8,330 Z" fill="#2872c2" stroke="#144a8a"/>
<path d="M557.5,313 L556.8,342" stroke="#4a96e0" stroke-width="1.5" fill="none"/>
</g>

<!-- dark ring + cylinder -->
<g>
<ellipse cx="587.5" cy="369.5" rx="14" ry="24.5" transform="rotate(30 587.5 369.5)" fill="#e2e2f6" stroke="none"/>
<path d="M568,384.3 C566,372 573,358 583.3,352.3 C590,347.5 597,344.5 601.3,344.7 C607,345.5 612,351 614,358.3 L606.7,354.3 C603,351.5 600,351 597.3,351.7 C590,354 583,358.5 580,361.7 C575,368 571.5,378 571.7,386.5 Z" fill="#4c4c50" stroke="#26262c" stroke-width="0.8"/>
<path d="M598.5,352.5 L701,410.5 L673,455 L577.5,389.5 A11.5,21 30 0 1 598.5,352.5 Z" fill="url(#gcyl)" stroke="none"/>
<path d="M598.5,352.5 L701,410.5 M577.5,389.5 L673,455" stroke="#55557a" stroke-width="0.8" fill="none"/>
<path d="M577.5,389.5 A11.5,21 30 0 1 598.5,352.5" stroke="#2a2a36" stroke-width="0.9" fill="none"/>
<path d="M582,392.5 A11.5,21 30 0 1 603,355.5" stroke="#2a2a36" stroke-width="0.9" fill="none"/>
<path d="M640,419 L672,437" stroke="#44446a" stroke-width="0.6" stroke-dasharray="2 1" fill="none"/>
<ellipse cx="687.1" cy="432.2" rx="14.8" ry="25.5" transform="rotate(29.7 687.1 432.2)" fill="url(#gcylin)" stroke="#23232e" stroke-width="2.2"/>
<path d="M690,414 C680,426 672,440 671,448" fill="none" stroke="#23232e" stroke-width="1.3"/>
<path d="M690,414 L699,419" fill="none" stroke="#23232e" stroke-width="0.8"/>
</g>
<!-- bracket under cylinder -->
<polygon points="633,428 640,444 633,447" fill="#c9a877" stroke="#4a3c28" stroke-width="0.5"/>

<!-- boom base box -->
<g stroke="#2a2a32" stroke-width="0.6">
<polygon points="584,432 597,438.5 597,453 584,446" fill="#d8d8e2"/>
<polygon points="597,438.5 610,431.5 610,446 597,453" fill="#b4b4c0"/>
<polygon points="584,432 597,425 610,431.5 597,438.5" fill="#ececf4"/>
<polygon points="600,441 607,437 607,446 600,450" fill="#2e2e34"/>
<path d="M588,437 V446 M592,439 V448" stroke="#666" fill="none"/>
<rect x="583" y="430" width="3.6" height="3.6" fill="#222" stroke="none"/>
</g>
<!-- green boom -->
<g>
<path d="M591,432 L715,363" stroke="#0f4f12" stroke-width="8" stroke-linecap="round" fill="none"/>
<path d="M591,432 L715,363" stroke="#1f7d22" stroke-width="6.4" stroke-linecap="round" fill="none"/>
<path d="M591,430.3 L714,361.8" stroke="#3aa63c" stroke-width="1.8" stroke-linecap="round" fill="none"/>
<path d="M648,396 L652,403 M634,404 L638,411 M706,364 L710,371" stroke="#0c3d0e" stroke-width="1.6" fill="none"/>
<ellipse cx="715.5" cy="362.5" rx="2.6" ry="3.6" transform="rotate(30 715.5 362.5)" fill="#145a16" stroke="#0c3d0e" stroke-width="0.5"/>
</g>

<!-- dark hood (pyramid) -->
<g stroke="#151515" stroke-width="0.7">
<polygon points="435,353 462,377 469,396 441,399.5 439,388" fill="#444448"/>
<polygon points="435,353 462,377 442,379" fill="#2f2f33"/>
<polygon points="442,379 462,377 469,396 441,399.5" fill="#55555b"/>
<polygon points="442,379 452,388 441,399.5" fill="#47474d"/>
<polygon points="435,353 442,379 441,399.5 438,390" fill="#3a3a3e"/>
</g>
<!-- horizontal horn -->
<g stroke="#4a4a10" stroke-width="0.7">
<polygon points="424,364 430,360 440,363 440,390 433,394 424,390" fill="#d6d62c"/>
<polygon points="424,364 430,360 440,363 434,367" fill="#e6e640"/>
<polygon points="434,367 440,363 440,390 433,394" fill="#b8b820"/>
<polygon points="412,370 424,372 424,385 412,387" fill="#d0d028"/>
<ellipse cx="413.5" cy="378.5" rx="2.5" ry="7.5" fill="#b0b020"/>
<polygon points="385,365 410,369 410,388 385,393" fill="#dede30"/>
<path d="M391,366 V392 M397,367 V391 M403,368 V390 M385,379 H410" fill="none" stroke-width="0.6"/>
<ellipse cx="385" cy="379" rx="4.2" ry="14" fill="#e8e84a"/>
<ellipse cx="385.3" cy="379" rx="2.6" ry="11" fill="#a8a82a"/>
</g>
<!-- vertical horn -->
<g stroke="#4a4a10" stroke-width="0.7">
<polygon points="407,471 415,461 431,469 429.5,481" fill="#4c4c52" stroke="#1e1e1e"/>
<polygon points="446,459 457,462 452,467 444,464" fill="#4c4c52" stroke="#1e1e1e"/>
<polygon points="415,447 433,440 448,447 430,455.5" fill="#e9e948"/>
<polygon points="415,447 430,455.5 430,468.5 415,460" fill="#d6d62c"/>
<polygon points="430,455.5 448,447 448,459.5 430,468.5" fill="#bcbc22"/>
<polygon points="424,438 436,438 437,448 423,448" fill="#d0d028"/>
<ellipse cx="430" cy="448" rx="7" ry="2.6" fill="#c4c424"/>
<polygon points="416,411 442,411 435,438 424,438" fill="#dede30"/>
<path d="M418.5,419 Q429,424 439.8,419 M420.8,427 Q429,431 437.8,427 M423,434 Q429.5,437 436,434 M429,416 V438" fill="none" stroke-width="0.6"/>
<ellipse cx="429.5" cy="438.5" rx="7" ry="2.2" fill="#55551a" stroke="#222"/>
<ellipse cx="429" cy="410.5" rx="13.2" ry="6.2" fill="#e8e84a"/>
<ellipse cx="429" cy="411" rx="9" ry="3.8" fill="#b4b42a"/>
</g>
</g>
<!-- red dashed ellipse -->
<ellipse cx="405.5" cy="503" rx="60" ry="21.5" transform="rotate(22.5 405.5 503)" fill="none" stroke="#ee1418" stroke-width="4.6" stroke-linecap="round" stroke-dasharray="0.1 6.9"/>

</g>


<!-- ===== connectors ===== -->
<g id="connectors">
<path class="c" d="M193.5,228 V395 H411" marker-end="url(#ah)"/>
<path class="c" d="M501,156 H620 V387" marker-end="url(#ah)"/>
<path class="c" d="M856,178 H670 V376" marker-end="url(#ah)"/>
<path class="c" d="M937,428.7 H787.5 V490.4 H640" marker-end="url(#ah)"/>
<path class="c" d="M958,563 H782 V520.4 H607" marker-end="url(#ah)"/>
<path class="c" d="M216,496.7 H281 V528 H360 V500" marker-end="url(#ah)"/>
<path class="c" d="M674,860 H632.5 V546" marker-end="url(#ah)"/>
<circle cx="674" cy="860" r="1.6" fill="#000"/>
</g>

<!-- ===== axes ===== -->
<g id="axes">
<path d="M518,365 V278.5" stroke="#f01418" stroke-width="3.3" fill="none" marker-end="url(#rh)"/>
<path d="M416,726 L371.5,763.5" stroke="#f01418" stroke-width="3.3" fill="none" marker-end="url(#rh)"/>
<path d="M669,732.5 L706,747" stroke="#f01418" stroke-width="3.3" fill="none" marker-end="url(#rh)"/>
<text class="ax" x="477" y="277" textLength="27" lengthAdjust="spacingAndGlyphs">+X</text>
<text class="ax" x="328" y="776" textLength="24" lengthAdjust="spacingAndGlyphs">+Y</text>
<text class="ax" x="665" y="769" textLength="25" lengthAdjust="spacingAndGlyphs">+Z</text>
</g>

<!-- ===== labels ===== -->
<g id="labels" class="lbl">
<text x="174.7" y="188.0" textLength="37.6" lengthAdjust="spacingAndGlyphs">Star</text>
<text x="159.3" y="216.0" textLength="69.7" lengthAdjust="spacingAndGlyphs">Tracker</text>
<text x="398.5" y="148.0" textLength="76.5" lengthAdjust="spacingAndGlyphs">Shadow</text>
<text x="416.0" y="177.0" textLength="42.3" lengthAdjust="spacingAndGlyphs">Cam</text>
<text x="892.4" y="166.7" textLength="60.2" lengthAdjust="spacingAndGlyphs">KMAG</text>
<text x="894.8" y="194.9" textLength="55.0" lengthAdjust="spacingAndGlyphs">Boom</text>
<text x="887.0" y="222.6" textLength="70.8" lengthAdjust="spacingAndGlyphs">(Sensor</text>
<text x="899.6" y="250.4" textLength="44.7" lengthAdjust="spacingAndGlyphs">incl.)</text>
<text x="971.9" y="422.0" textLength="120.9" lengthAdjust="spacingAndGlyphs">Polcam Assy.</text>
<text x="964.4" y="449.5" textLength="135.9" lengthAdjust="spacingAndGlyphs">(Optical Head)</text>
<text x="991.7" y="558.0" textLength="102.0" lengthAdjust="spacingAndGlyphs">KGRS Assy.</text>
<text x="1004.0" y="587.0" textLength="78.0" lengthAdjust="spacingAndGlyphs">(Sensor)</text>
<text x="29.3" y="476.0" textLength="148.0" lengthAdjust="spacingAndGlyphs">DTNPL /Polcam</text>
<text x="29.3" y="504.0" textLength="161.4" lengthAdjust="spacingAndGlyphs" xml:space="preserve">/KGRS  EU-Boxes</text>
<text x="29.3" y="532.0" textLength="130.0" lengthAdjust="spacingAndGlyphs">(Panel inside)</text>
<text x="690.0" y="867.5" textLength="41.0" lengthAdjust="spacingAndGlyphs">LUTI</text>
<text x="1164" y="872" font-size="20" textLength="12" lengthAdjust="spacingAndGlyphs">8</text>
</g>
</svg>
</body>
</html>
